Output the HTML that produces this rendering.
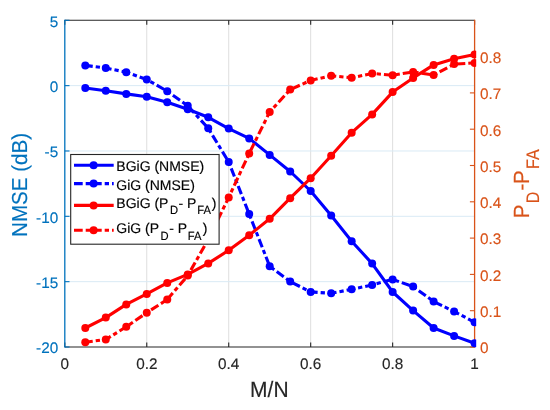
<!DOCTYPE html>
<html><head><meta charset="utf-8"><style>
html,body{margin:0;padding:0;background:#fff;}
body{width:550px;height:410px;overflow:hidden;}
svg{display:block;}
text{font-family:"Liberation Sans",Arial,Helvetica,sans-serif;text-rendering:geometricPrecision;}
</style></head><body>
<svg width="550" height="410" viewBox="0 0 550 410">
<rect width="550" height="410" fill="#fff"/>
<defs><clipPath id="c"><rect x="0" y="0" width="476.2" height="410"/></clipPath></defs>
<line x1="146.76" y1="20.3" x2="146.76" y2="347.0" stroke="rgb(222,222,222)" stroke-width="1"/><line x1="228.72" y1="20.3" x2="228.72" y2="347.0" stroke="rgb(222,222,222)" stroke-width="1"/><line x1="310.68" y1="20.3" x2="310.68" y2="347.0" stroke="rgb(222,222,222)" stroke-width="1"/><line x1="392.64" y1="20.3" x2="392.64" y2="347.0" stroke="rgb(222,222,222)" stroke-width="1"/><line x1="64.8" y1="85.64" x2="474.6" y2="85.64" stroke="rgb(217,234,245)" stroke-width="1"/><line x1="64.8" y1="150.98" x2="474.6" y2="150.98" stroke="rgb(217,234,245)" stroke-width="1"/><line x1="64.8" y1="216.32" x2="474.6" y2="216.32" stroke="rgb(217,234,245)" stroke-width="1"/><line x1="64.8" y1="281.66" x2="474.6" y2="281.66" stroke="rgb(217,234,245)" stroke-width="1"/>
<line x1="64.8" y1="20.3" x2="474.6" y2="20.3" stroke="rgb(38,38,38)" stroke-width="1.1"/><line x1="64.8" y1="347.0" x2="474.6" y2="347.0" stroke="rgb(38,38,38)" stroke-width="1.1"/><line x1="64.80" y1="347.0" x2="64.80" y2="342.5" stroke="rgb(38,38,38)" stroke-width="1.1"/><line x1="64.80" y1="20.3" x2="64.80" y2="24.8" stroke="rgb(38,38,38)" stroke-width="1.1"/><line x1="146.76" y1="347.0" x2="146.76" y2="342.5" stroke="rgb(38,38,38)" stroke-width="1.1"/><line x1="146.76" y1="20.3" x2="146.76" y2="24.8" stroke="rgb(38,38,38)" stroke-width="1.1"/><line x1="228.72" y1="347.0" x2="228.72" y2="342.5" stroke="rgb(38,38,38)" stroke-width="1.1"/><line x1="228.72" y1="20.3" x2="228.72" y2="24.8" stroke="rgb(38,38,38)" stroke-width="1.1"/><line x1="310.68" y1="347.0" x2="310.68" y2="342.5" stroke="rgb(38,38,38)" stroke-width="1.1"/><line x1="310.68" y1="20.3" x2="310.68" y2="24.8" stroke="rgb(38,38,38)" stroke-width="1.1"/><line x1="392.64" y1="347.0" x2="392.64" y2="342.5" stroke="rgb(38,38,38)" stroke-width="1.1"/><line x1="392.64" y1="20.3" x2="392.64" y2="24.8" stroke="rgb(38,38,38)" stroke-width="1.1"/><line x1="474.60" y1="347.0" x2="474.60" y2="342.5" stroke="rgb(38,38,38)" stroke-width="1.1"/><line x1="474.60" y1="20.3" x2="474.60" y2="24.8" stroke="rgb(38,38,38)" stroke-width="1.1"/>
<line x1="64.8" y1="19.8" x2="64.8" y2="347.5" stroke="rgb(0,114,189)" stroke-width="1.3"/><line x1="64.8" y1="20.30" x2="69.5" y2="20.30" stroke="rgb(0,114,189)" stroke-width="1.1"/><line x1="64.8" y1="85.64" x2="69.5" y2="85.64" stroke="rgb(0,114,189)" stroke-width="1.1"/><line x1="64.8" y1="150.98" x2="69.5" y2="150.98" stroke="rgb(0,114,189)" stroke-width="1.1"/><line x1="64.8" y1="216.32" x2="69.5" y2="216.32" stroke="rgb(0,114,189)" stroke-width="1.1"/><line x1="64.8" y1="281.66" x2="69.5" y2="281.66" stroke="rgb(0,114,189)" stroke-width="1.1"/><line x1="64.8" y1="347.00" x2="69.5" y2="347.00" stroke="rgb(0,114,189)" stroke-width="1.1"/><line x1="474.6" y1="19.8" x2="474.6" y2="347.5" stroke="rgb(217,83,25)" stroke-width="1.3"/><line x1="469.90000000000003" y1="347.00" x2="474.6" y2="347.00" stroke="rgb(217,83,25)" stroke-width="1.1"/><line x1="469.90000000000003" y1="310.70" x2="474.6" y2="310.70" stroke="rgb(217,83,25)" stroke-width="1.1"/><line x1="469.90000000000003" y1="274.40" x2="474.6" y2="274.40" stroke="rgb(217,83,25)" stroke-width="1.1"/><line x1="469.90000000000003" y1="238.10" x2="474.6" y2="238.10" stroke="rgb(217,83,25)" stroke-width="1.1"/><line x1="469.90000000000003" y1="201.80" x2="474.6" y2="201.80" stroke="rgb(217,83,25)" stroke-width="1.1"/><line x1="469.90000000000003" y1="165.50" x2="474.6" y2="165.50" stroke="rgb(217,83,25)" stroke-width="1.1"/><line x1="469.90000000000003" y1="129.20" x2="474.6" y2="129.20" stroke="rgb(217,83,25)" stroke-width="1.1"/><line x1="469.90000000000003" y1="92.90" x2="474.6" y2="92.90" stroke="rgb(217,83,25)" stroke-width="1.1"/><line x1="469.90000000000003" y1="56.60" x2="474.6" y2="56.60" stroke="rgb(217,83,25)" stroke-width="1.1"/>
<g clip-path="url(#c)">
<polyline points="85.29,88.00 105.78,90.70 126.27,93.90 146.76,96.80 167.25,102.20 187.74,109.20 208.23,117.30 228.72,128.60 249.21,138.40 269.70,154.90 290.19,171.50 310.68,191.00 331.17,215.60 351.66,241.20 372.15,263.60 392.64,292.00 413.13,310.60 433.62,328.00 454.11,335.90 474.60,343.20" fill="none" stroke="#0000ff" stroke-width="3.1" stroke-linejoin="round" stroke-linecap="butt"/>
<circle cx="85.29" cy="88.00" r="4.0" fill="#0000ff"/><circle cx="105.78" cy="90.70" r="4.0" fill="#0000ff"/><circle cx="126.27" cy="93.90" r="4.0" fill="#0000ff"/><circle cx="146.76" cy="96.80" r="4.0" fill="#0000ff"/><circle cx="167.25" cy="102.20" r="4.0" fill="#0000ff"/><circle cx="187.74" cy="109.20" r="4.0" fill="#0000ff"/><circle cx="208.23" cy="117.30" r="4.0" fill="#0000ff"/><circle cx="228.72" cy="128.60" r="4.0" fill="#0000ff"/><circle cx="249.21" cy="138.40" r="4.0" fill="#0000ff"/><circle cx="269.70" cy="154.90" r="4.0" fill="#0000ff"/><circle cx="290.19" cy="171.50" r="4.0" fill="#0000ff"/><circle cx="310.68" cy="191.00" r="4.0" fill="#0000ff"/><circle cx="331.17" cy="215.60" r="4.0" fill="#0000ff"/><circle cx="351.66" cy="241.20" r="4.0" fill="#0000ff"/><circle cx="372.15" cy="263.60" r="4.0" fill="#0000ff"/><circle cx="392.64" cy="292.00" r="4.0" fill="#0000ff"/><circle cx="413.13" cy="310.60" r="4.0" fill="#0000ff"/><circle cx="433.62" cy="328.00" r="4.0" fill="#0000ff"/><circle cx="454.11" cy="335.90" r="4.0" fill="#0000ff"/><circle cx="474.60" cy="343.20" r="4.0" fill="#0000ff"/>
<polyline points="85.29,65.40 105.78,68.00 126.27,72.20 146.76,79.50 167.25,91.20 187.74,105.70 208.23,128.30 228.72,162.00 249.21,214.10 269.70,266.30 290.19,281.60 310.68,291.90 331.17,293.30 351.66,289.30 372.15,284.90 392.64,279.40 413.13,286.60 433.62,301.50 454.11,311.50 474.60,322.30" fill="none" stroke="#0000ff" stroke-width="3.1" stroke-linejoin="round" stroke-linecap="butt" stroke-dasharray="8.7 3 4.3 3" stroke-dashoffset="1.2"/>
<circle cx="85.29" cy="65.40" r="4.0" fill="#0000ff"/><circle cx="105.78" cy="68.00" r="4.0" fill="#0000ff"/><circle cx="126.27" cy="72.20" r="4.0" fill="#0000ff"/><circle cx="146.76" cy="79.50" r="4.0" fill="#0000ff"/><circle cx="167.25" cy="91.20" r="4.0" fill="#0000ff"/><circle cx="187.74" cy="105.70" r="4.0" fill="#0000ff"/><circle cx="208.23" cy="128.30" r="4.0" fill="#0000ff"/><circle cx="228.72" cy="162.00" r="4.0" fill="#0000ff"/><circle cx="249.21" cy="214.10" r="4.0" fill="#0000ff"/><circle cx="269.70" cy="266.30" r="4.0" fill="#0000ff"/><circle cx="290.19" cy="281.60" r="4.0" fill="#0000ff"/><circle cx="310.68" cy="291.90" r="4.0" fill="#0000ff"/><circle cx="331.17" cy="293.30" r="4.0" fill="#0000ff"/><circle cx="351.66" cy="289.30" r="4.0" fill="#0000ff"/><circle cx="372.15" cy="284.90" r="4.0" fill="#0000ff"/><circle cx="392.64" cy="279.40" r="4.0" fill="#0000ff"/><circle cx="413.13" cy="286.60" r="4.0" fill="#0000ff"/><circle cx="433.62" cy="301.50" r="4.0" fill="#0000ff"/><circle cx="454.11" cy="311.50" r="4.0" fill="#0000ff"/><circle cx="474.60" cy="322.30" r="4.0" fill="#0000ff"/>
<polyline points="85.29,328.00 105.78,317.60 126.27,304.40 146.76,293.90 167.25,282.90 187.74,274.40 208.23,263.40 228.72,250.30 249.21,235.20 269.70,218.80 290.19,198.20 310.68,178.20 331.17,155.70 351.66,132.70 372.15,114.40 392.64,92.10 413.13,77.90 433.62,64.90 454.11,58.80 474.60,54.40" fill="none" stroke="#ff0000" stroke-width="3.1" stroke-linejoin="round" stroke-linecap="butt"/>
<circle cx="85.29" cy="328.00" r="4.0" fill="#ff0000"/><circle cx="105.78" cy="317.60" r="4.0" fill="#ff0000"/><circle cx="126.27" cy="304.40" r="4.0" fill="#ff0000"/><circle cx="146.76" cy="293.90" r="4.0" fill="#ff0000"/><circle cx="167.25" cy="282.90" r="4.0" fill="#ff0000"/><circle cx="187.74" cy="274.40" r="4.0" fill="#ff0000"/><circle cx="208.23" cy="263.40" r="4.0" fill="#ff0000"/><circle cx="228.72" cy="250.30" r="4.0" fill="#ff0000"/><circle cx="249.21" cy="235.20" r="4.0" fill="#ff0000"/><circle cx="269.70" cy="218.80" r="4.0" fill="#ff0000"/><circle cx="290.19" cy="198.20" r="4.0" fill="#ff0000"/><circle cx="310.68" cy="178.20" r="4.0" fill="#ff0000"/><circle cx="331.17" cy="155.70" r="4.0" fill="#ff0000"/><circle cx="351.66" cy="132.70" r="4.0" fill="#ff0000"/><circle cx="372.15" cy="114.40" r="4.0" fill="#ff0000"/><circle cx="392.64" cy="92.10" r="4.0" fill="#ff0000"/><circle cx="413.13" cy="77.90" r="4.0" fill="#ff0000"/><circle cx="433.62" cy="64.90" r="4.0" fill="#ff0000"/><circle cx="454.11" cy="58.80" r="4.0" fill="#ff0000"/><circle cx="474.60" cy="54.40" r="4.0" fill="#ff0000"/>
<polyline points="85.29,342.20 105.78,339.50 126.27,326.80 146.76,312.70 167.25,299.50 187.74,275.60 208.23,239.50 228.72,197.40 249.21,153.40 269.70,111.90 290.19,89.60 310.68,80.40 331.17,75.70 351.66,77.80 372.15,73.40 392.64,75.20 413.13,71.90 433.62,75.10 454.11,64.10 474.60,62.90" fill="none" stroke="#ff0000" stroke-width="3.1" stroke-linejoin="round" stroke-linecap="butt" stroke-dasharray="8.7 3 4.3 3" stroke-dashoffset="1.2"/>
<circle cx="85.29" cy="342.20" r="4.0" fill="#ff0000"/><circle cx="105.78" cy="339.50" r="4.0" fill="#ff0000"/><circle cx="126.27" cy="326.80" r="4.0" fill="#ff0000"/><circle cx="146.76" cy="312.70" r="4.0" fill="#ff0000"/><circle cx="167.25" cy="299.50" r="4.0" fill="#ff0000"/><circle cx="187.74" cy="275.60" r="4.0" fill="#ff0000"/><circle cx="208.23" cy="239.50" r="4.0" fill="#ff0000"/><circle cx="228.72" cy="197.40" r="4.0" fill="#ff0000"/><circle cx="249.21" cy="153.40" r="4.0" fill="#ff0000"/><circle cx="269.70" cy="111.90" r="4.0" fill="#ff0000"/><circle cx="290.19" cy="89.60" r="4.0" fill="#ff0000"/><circle cx="310.68" cy="80.40" r="4.0" fill="#ff0000"/><circle cx="331.17" cy="75.70" r="4.0" fill="#ff0000"/><circle cx="351.66" cy="77.80" r="4.0" fill="#ff0000"/><circle cx="372.15" cy="73.40" r="4.0" fill="#ff0000"/><circle cx="392.64" cy="75.20" r="4.0" fill="#ff0000"/><circle cx="413.13" cy="71.90" r="4.0" fill="#ff0000"/><circle cx="433.62" cy="75.10" r="4.0" fill="#ff0000"/><circle cx="454.11" cy="64.10" r="4.0" fill="#ff0000"/><circle cx="474.60" cy="62.90" r="4.0" fill="#ff0000"/>
</g>
<text transform="translate(58.20,26.60) scale(1,1.0)" font-size="15.3" fill="rgb(0,114,189)" stroke="rgb(0,114,189)" stroke-width="0.15" text-anchor="end">5</text><text transform="translate(58.20,91.94) scale(1,1.0)" font-size="15.3" fill="rgb(0,114,189)" stroke="rgb(0,114,189)" stroke-width="0.15" text-anchor="end">0</text><text transform="translate(58.20,157.28) scale(1,1.0)" font-size="15.3" fill="rgb(0,114,189)" stroke="rgb(0,114,189)" stroke-width="0.15" text-anchor="end">-5</text><text transform="translate(58.20,222.62) scale(1,1.0)" font-size="15.3" fill="rgb(0,114,189)" stroke="rgb(0,114,189)" stroke-width="0.15" text-anchor="end">-10</text><text transform="translate(58.20,287.96) scale(1,1.0)" font-size="15.3" fill="rgb(0,114,189)" stroke="rgb(0,114,189)" stroke-width="0.15" text-anchor="end">-15</text><text transform="translate(58.20,353.30) scale(1,1.0)" font-size="15.3" fill="rgb(0,114,189)" stroke="rgb(0,114,189)" stroke-width="0.15" text-anchor="end">-20</text><text transform="translate(479.90,353.30) scale(1,1.0)" font-size="15.3" fill="rgb(217,83,25)" stroke="rgb(217,83,25)" stroke-width="0.15">0</text><text transform="translate(479.90,317.00) scale(1,1.0)" font-size="15.3" fill="rgb(217,83,25)" stroke="rgb(217,83,25)" stroke-width="0.15">0.1</text><text transform="translate(479.90,280.70) scale(1,1.0)" font-size="15.3" fill="rgb(217,83,25)" stroke="rgb(217,83,25)" stroke-width="0.15">0.2</text><text transform="translate(479.90,244.40) scale(1,1.0)" font-size="15.3" fill="rgb(217,83,25)" stroke="rgb(217,83,25)" stroke-width="0.15">0.3</text><text transform="translate(479.90,208.10) scale(1,1.0)" font-size="15.3" fill="rgb(217,83,25)" stroke="rgb(217,83,25)" stroke-width="0.15">0.4</text><text transform="translate(479.90,171.80) scale(1,1.0)" font-size="15.3" fill="rgb(217,83,25)" stroke="rgb(217,83,25)" stroke-width="0.15">0.5</text><text transform="translate(479.90,135.50) scale(1,1.0)" font-size="15.3" fill="rgb(217,83,25)" stroke="rgb(217,83,25)" stroke-width="0.15">0.6</text><text transform="translate(479.90,99.20) scale(1,1.0)" font-size="15.3" fill="rgb(217,83,25)" stroke="rgb(217,83,25)" stroke-width="0.15">0.7</text><text transform="translate(479.90,62.90) scale(1,1.0)" font-size="15.3" fill="rgb(217,83,25)" stroke="rgb(217,83,25)" stroke-width="0.15">0.8</text><text transform="translate(64.80,369.10) scale(1,1.0)" font-size="15.3" fill="rgb(38,38,38)" stroke="rgb(38,38,38)" stroke-width="0.15" text-anchor="middle">0</text><text transform="translate(146.76,369.10) scale(1,1.0)" font-size="15.3" fill="rgb(38,38,38)" stroke="rgb(38,38,38)" stroke-width="0.15" text-anchor="middle">0.2</text><text transform="translate(228.72,369.10) scale(1,1.0)" font-size="15.3" fill="rgb(38,38,38)" stroke="rgb(38,38,38)" stroke-width="0.15" text-anchor="middle">0.4</text><text transform="translate(310.68,369.10) scale(1,1.0)" font-size="15.3" fill="rgb(38,38,38)" stroke="rgb(38,38,38)" stroke-width="0.15" text-anchor="middle">0.6</text><text transform="translate(392.64,369.10) scale(1,1.0)" font-size="15.3" fill="rgb(38,38,38)" stroke="rgb(38,38,38)" stroke-width="0.15" text-anchor="middle">0.8</text><text transform="translate(474.60,369.10) scale(1,1.0)" font-size="15.3" fill="rgb(38,38,38)" stroke="rgb(38,38,38)" stroke-width="0.15" text-anchor="middle">1</text><text transform="translate(269.30,396.60) scale(1,1.055)" font-size="21" fill="rgb(38,38,38)" stroke="rgb(38,38,38)" stroke-width="0.15" text-anchor="middle">M/N</text><text transform="translate(27.30,184.90) rotate(-90) scale(1,1.05)" font-size="20.6" fill="rgb(0,114,189)" stroke="rgb(0,114,189)" stroke-width="0.15" text-anchor="middle">NMSE (dB)</text><text transform="translate(528.50,218.20) rotate(-90) scale(1,1.07)" font-size="20.5" fill="rgb(217,83,25)" stroke="rgb(217,83,25)" stroke-width="0.15">P</text><text transform="translate(538.80,203.25) rotate(-90) scale(1,1.13)" font-size="16" fill="rgb(217,83,25)" stroke="rgb(217,83,25)" stroke-width="0.15">D</text><text transform="translate(528.30,190.60) rotate(-90) scale(1,1.0)" font-size="20.5" fill="rgb(217,83,25)" stroke="rgb(217,83,25)" stroke-width="0.15">-</text><text transform="translate(528.50,184.00) rotate(-90) scale(1,1.07)" font-size="20.5" fill="rgb(217,83,25)" stroke="rgb(217,83,25)" stroke-width="0.15">P</text><text transform="translate(538.80,168.95) rotate(-90) scale(1,1.13)" font-size="16" fill="rgb(217,83,25)" stroke="rgb(217,83,25)" stroke-width="0.15">FA</text>
<rect x="70.7" y="154.5" width="148.4" height="89.7" fill="#fff" stroke="rgb(38,38,38)" stroke-width="1.1"/><line x1="74" y1="165.2" x2="113.7" y2="165.2" stroke="#0000ff" stroke-width="3.1"/><circle cx="93.6" cy="165.2" r="4.0" fill="#0000ff"/><line x1="74" y1="183.6" x2="113.7" y2="183.6" stroke="#0000ff" stroke-width="3.1" stroke-dasharray="8.7 3 4.3 3"/><circle cx="93.6" cy="183.6" r="4.0" fill="#0000ff"/><line x1="74" y1="205.4" x2="113.7" y2="205.4" stroke="#ff0000" stroke-width="3.1"/><circle cx="93.6" cy="205.4" r="4.0" fill="#ff0000"/><line x1="74" y1="230.3" x2="113.7" y2="230.3" stroke="#ff0000" stroke-width="3.1" stroke-dasharray="8.7 3 4.3 3"/><circle cx="93.6" cy="230.3" r="4.0" fill="#ff0000"/><text transform="translate(116.30,170.50) scale(1,1.0)" font-size="14" fill="#000" stroke="#000" stroke-width="0.15">BGiG (NMSE)</text><text transform="translate(116.30,189.70) scale(1,1.0)" font-size="14" fill="#000" stroke="#000" stroke-width="0.15">GiG (NMSE)</text><text transform="translate(116.30,207.50) scale(1,1.0)" font-size="14" fill="#000" stroke="#000" stroke-width="0.15">BGiG (P</text><text transform="translate(170.00,214.30) scale(1,1.06)" font-size="11.2" fill="#000" stroke="#000" stroke-width="0.15">D</text><text transform="translate(178.50,207.50) scale(1,1.0)" font-size="14" fill="#000" stroke="#000" stroke-width="0.15">- P</text><text transform="translate(197.30,214.30) scale(1,1.06)" font-size="11.2" fill="#000" stroke="#000" stroke-width="0.15">FA</text><text transform="translate(211.70,207.50) scale(1,1.0)" font-size="14" fill="#000" stroke="#000" stroke-width="0.15">)</text><text transform="translate(116.30,232.80) scale(1,1.0)" font-size="14" fill="#000" stroke="#000" stroke-width="0.15">GiG (P</text><text transform="translate(160.50,239.60) scale(1,1.06)" font-size="11.2" fill="#000" stroke="#000" stroke-width="0.15">D</text><text transform="translate(169.30,232.80) scale(1,1.0)" font-size="14" fill="#000" stroke="#000" stroke-width="0.15">- P</text><text transform="translate(187.70,239.60) scale(1,1.06)" font-size="11.2" fill="#000" stroke="#000" stroke-width="0.15">FA</text><text transform="translate(202.70,232.80) scale(1,1.0)" font-size="14" fill="#000" stroke="#000" stroke-width="0.15">)</text>
</svg>
</body></html>
